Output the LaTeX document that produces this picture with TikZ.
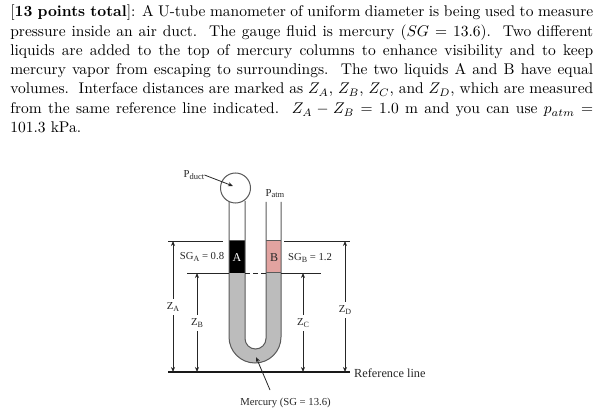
\documentclass[tikz,border=0pt]{standalone}
\usepackage{fontspec}
\usetikzlibrary{arrows.meta}
\newfontfamily\dfont{Liberation Serif}
\definecolor{hg}{RGB}{188,188,188}
\definecolor{pinkb}{RGB}{226,163,160}
\definecolor{tube}{RGB}{90,90,90}
\tikzset{
  para/.style={anchor=base west,inner sep=0pt,scale=1.55,font=\fontsize{10}{12}\selectfont},
  lab/.style={inner sep=0pt,font=\dfont\fontsize{10.7}{12}\selectfont,text=black!85},
  zlab/.style={lab,fill=white,inner xsep=1pt,inner ysep=4pt},
  dim/.style={line width=.8pt,black!85,-{Stealth[length=5pt,width=4pt]}},
  rule/.style={line width=.9pt,black!85},
  tubeline/.style={line width=1pt,tube},
}
\newcommand{\fl}[1]{\hbox to 376.1pt{#1}}
\begin{document}
\begin{tikzpicture}[x=1pt,y=-1pt]
\useasboundingbox (0,0) rectangle (607,411);
% paragraph
\node[para] (l1) at (10,17) {\fl{[\textbf{13 points total}]: A U-tube manometer of uniform diameter is being used to measure}};
\node[para] (l2) at (10,37) {\fl{pressure inside an air duct.\ \ The gauge fluid is mercury ($SG$ = 13.6).\ \ Two different}};
\node[para] (l3) at (10,56) {\fl{liquids are added to the top of mercury columns to enhance visibility and to keep}};
\node[para] (l4) at (10,75) {\fl{mercury vapor from escaping to surroundings.\ \ The two liquids A and B have equal}};
\node[para] (l5) at (10,94) {\fl{volumes.\ \ Interface distances are marked as $Z_A$, $Z_B$, $Z_C$, and $Z_D$, which are measured}};
\node[para] (l6) at (10,114) {\fl{from the same reference line indicated.\ \ $Z_A-Z_B$ = 1.0 m and you can use $p_{atm}$ =}};
\node[para] (l7) at (10,133) {101.3 kPa.};
% mercury U body
\fill[hg] (229,273) -- (229,337) arc[start angle=180,end angle=0,radius=26] -- (281,273) -- (266,273) -- (266,338.5)
  arc[start angle=0,end angle=180,radius=10.5] -- (245,273) -- cycle;
% liquids
\fill[black] (229,241) rectangle (245,273);
\fill[pinkb] (266,241) rectangle (281,273);
% tube walls
\draw[tubeline] (229,201) -- (229,337) arc[start angle=180,end angle=0,radius=26] -- (281,202);
\draw[tubeline] (245,201) -- (245,338.5) arc[start angle=180,end angle=0,radius=10.5] -- (266,202);
\draw[tubeline] (229,241) -- (245,241) (266,241) -- (281,241) (266,273) -- (281,273);
% duct
\node[circle,draw=tube,fill=white,line width=1pt,minimum size=30pt,inner sep=0pt] (duct) at (235.5,188) {};
\coordinate (ductc) at (233,186);
% coordinates
\coordinate (ta) at (173,241);
\coordinate (tb) at (197,273);
\coordinate (tc) at (303,273);
\coordinate (td) at (345,241);
\coordinate (ba) at (173,372);
\coordinate (bb) at (197,372);
\coordinate (bc) at (303,372);
\coordinate (bd) at (345,372);
% rules
\coordinate (r1l) at (168,241); \coordinate (r1r) at (223,241);
\coordinate (r2l) at (284,241); \coordinate (r2r) at (350,241);
\coordinate (r3l) at (187,273); \coordinate (r3r) at (229,273);
\coordinate (r4l) at (281,273); \coordinate (r4r) at (321,273);
\coordinate (d1) at (245,273); \coordinate (d2) at (266,273);
\coordinate (rl) at (168,372); \coordinate (rr) at (350,372);
\draw[rule] (r1l) -- (r1r);
\draw[rule] (r2l) -- (r2r);
\draw[rule] (r3l) -- (r3r);
\draw[rule] (r4l) -- (r4r);
\draw[rule,dash pattern=on 5pt off 3pt] (d1) -- (d2);
\draw[line width=1.1pt,black!90] (rl) -- (rr);
% labels
\node[lab] (pduct) at (194,175) {P\raisebox{-1.5pt}{\fontsize{8.5}{9}\selectfont duct}};
\node[lab] (patm) at (275,193.5) {P\raisebox{-1.5pt}{\fontsize{8.5}{9}\selectfont atm}};
\node[lab] (sga) at (202,257) {SG\raisebox{-1.5pt}{\fontsize{8}{9}\selectfont A} = 0.8};
\node[lab] (sgb) at (310,258) {SG\raisebox{-1.5pt}{\fontsize{8}{9}\selectfont B} = 1.2};
\node[lab,text=white,font=\dfont\fontsize{12}{14}\selectfont] (la) at (237,258) {A};
\node[lab,font=\dfont\fontsize{12}{14}\selectfont] (lb) at (274,258) {B};
\node[zlab] (za) at (173,307) {Z\raisebox{-1.5pt}{\fontsize{8}{9}\selectfont A}};
\node[zlab] (zb) at (197,323) {Z\raisebox{-1.5pt}{\fontsize{8}{9}\selectfont B}};
\node[zlab] (zc) at (303,323) {Z\raisebox{-1.5pt}{\fontsize{8}{9}\selectfont C}};
\node[zlab] (zd) at (345,310) {Z\raisebox{-1.5pt}{\fontsize{8}{9}\selectfont D}};
\node[lab,anchor=west,font=\dfont\fontsize{12.3}{14}\selectfont] (ref) at (354,373.5) {Reference line};
\node[lab] (merc) at (285.5,403) {Mercury (SG = 13.6)};
\coordinate (mtip) at (256,357);
\coordinate (mtail) at (270,390);
% dimension arrows
\draw[dim] (za) -- (ta);
\draw[dim] (za) -- (ba);
\draw[dim] (zb) -- (tb);
\draw[dim] (zb) -- (bb);
\draw[dim] (zc) -- (tc);
\draw[dim] (zc) -- (bc);
\draw[dim] (zd) -- (td);
\draw[dim] (zd) -- (bd);
% pointers
\draw[dim] (pduct.east) -- (ductc);
\draw[dim] (mtail) -- (mtip);
\end{tikzpicture}
\end{document}
